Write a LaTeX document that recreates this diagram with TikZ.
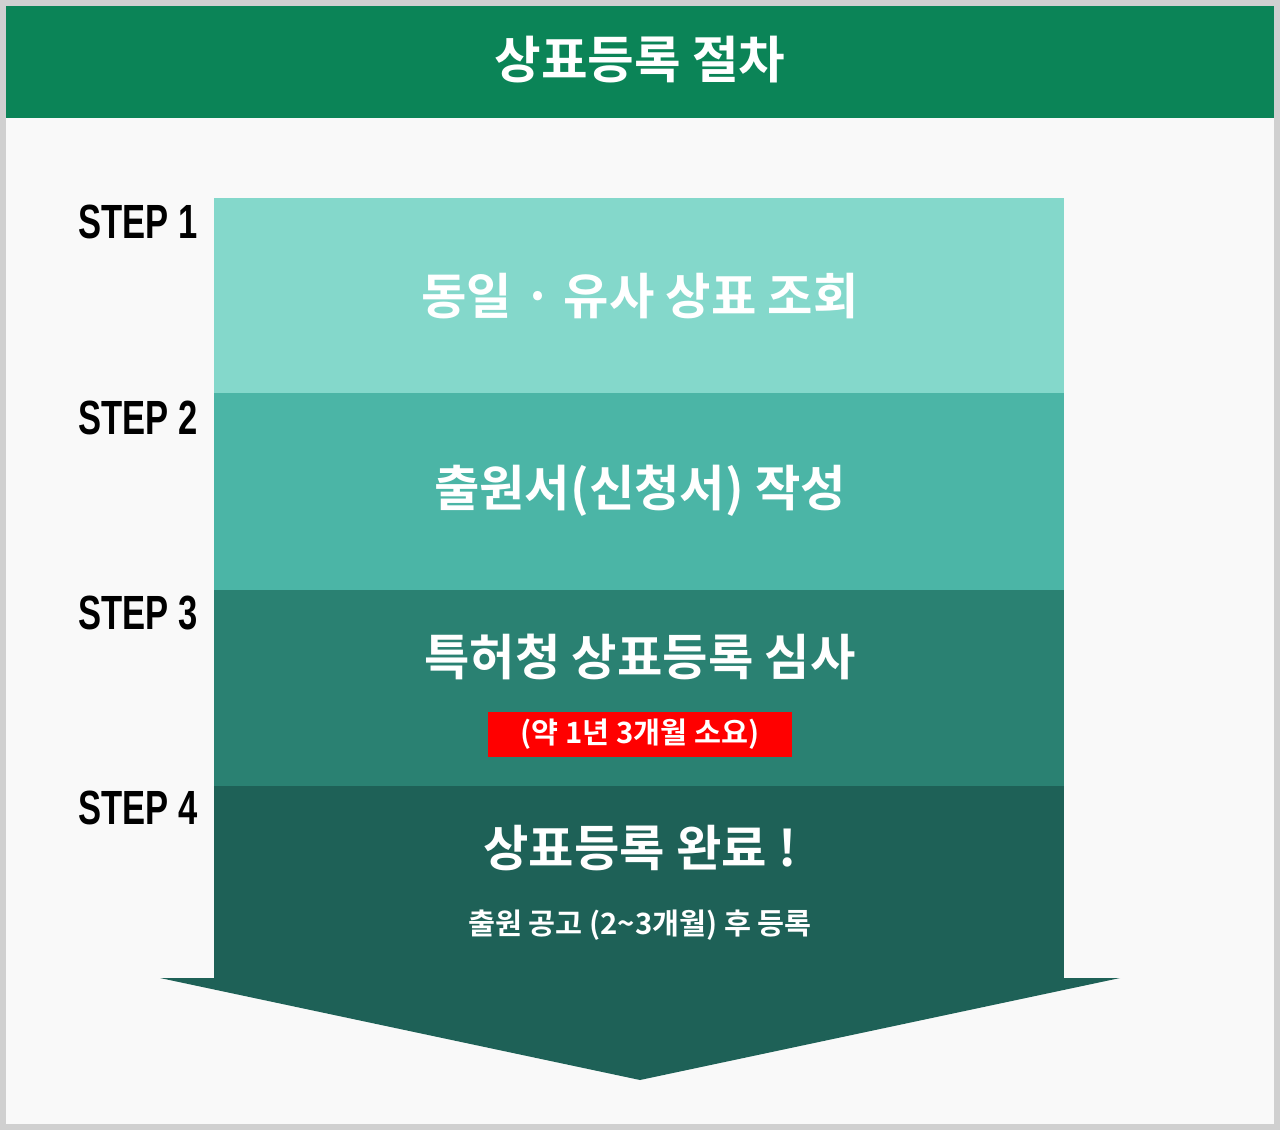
\documentclass[tikz,border=0pt]{standalone}
\usepackage{fontspec}
\newfontfamily\kr{Noto Sans CJK KR Bold}
\newfontfamily\stepf[FakeStretch=0.72]{Liberation Sans Bold}
\definecolor{frame}{HTML}{D0D0D0}
\definecolor{bg}{HTML}{F9F9F9}
\definecolor{titlegreen}{HTML}{0B8457}
\definecolor{cA}{HTML}{84D8CB}
\definecolor{cB}{HTML}{4BB5A6}
\definecolor{cC}{HTML}{2A8172}
\definecolor{cD}{HTML}{1E6157}
\definecolor{redbox}{HTML}{FF0000}
\begin{document}
\begin{tikzpicture}[x=0.75pt,y=-0.75pt,
  steplabel/.style={anchor=west,inner sep=0pt,font=\stepf\fontsize{36}{40}\selectfont,text=black},
  maintext/.style={text=white,inner sep=0pt,font=\kr\fontsize{37}{42}\selectfont},
  subtext/.style={text=white,inner sep=0pt,font=\kr\fontsize{22}{26}\selectfont}]
\useasboundingbox (0,0) rectangle (1280,1130);
\fill[frame] (0,0) rectangle (1280,1130);
\fill[bg] (6,6) rectangle (1274,1124);
\fill[titlegreen] (6,6) rectangle (1274,118);
\node[text=white,inner sep=0pt,font=\kr\fontsize{38}{42}\selectfont] (title) at (640,60) {상표등록 절차};
\fill[cA] (214,198) rectangle (1064,394);
\fill[cB] (214,393) rectangle (1064,591);
\fill[cC] (214,590) rectangle (1064,787);
\fill[cD] (214,786) rectangle (1064,979);
\fill[cD] (160,978) -- (1120,978) -- (640,1080) -- cycle;
\node[steplabel] (s1) at (78,222) {STEP 1};
\node[steplabel] (s2) at (78,418) {STEP 2};
\node[steplabel] (s3) at (78,613) {STEP 3};
\node[steplabel] (s4) at (78,808) {STEP 4};
\node[maintext] (t1) at (640,296) {동일 · 유사 상표 조회};
\node[maintext] (t2) at (640,491) {출원서(신청서) 작성};
\node[maintext] (t3) at (640,657) {특허청 상표등록 심사};
\fill[redbox] (488,712) rectangle (792,757);
\node[subtext] (t3b) at (640,734) {(약 1년 3개월 소요)};
\node[maintext] (t4) at (640,848) {상표등록 완료 !};
\node[subtext] (t4b) at (640,925) {출원 공고 (2\char`\~3개월) 후 등록};
\end{tikzpicture}
\end{document}
